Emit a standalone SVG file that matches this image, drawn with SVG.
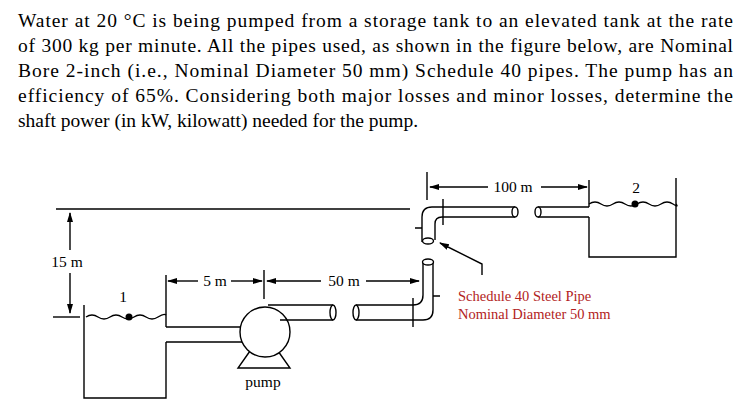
<svg xmlns="http://www.w3.org/2000/svg" width="751" height="412" viewBox="0 0 751 412">
<style>
.p{font-family:"Liberation Serif","Times New Roman",serif;font-size:19.5px;fill:#000}
.l{font-family:"Liberation Serif","Times New Roman",serif;font-size:15.5px;fill:#000}
.r{font-family:"Liberation Serif","Times New Roman",serif;font-size:14.5px;fill:#b22222}
.s{fill:none;stroke:#000;stroke-width:1.4}
.w{fill:#fff;stroke:#000;stroke-width:1.4}
</style>
<defs><marker id="a" markerWidth="10" markerHeight="8" refX="9" refY="4" orient="auto" markerUnits="userSpaceOnUse"><path d="M0,1 L10,4 L0,7 Z" fill="#000"/></marker></defs>
<rect width="751" height="412" fill="#fff"/>
<g id="question">
<text class="p" x="18" y="27" textLength="715" lengthAdjust="spacing">Water at 20 °C is being pumped from a storage tank to an elevated tank at the rate</text>
<text class="p" x="18" y="52" textLength="715" lengthAdjust="spacing">of 300 kg per minute. All the pipes used, as shown in the figure below, are Nominal</text>
<text class="p" x="18" y="77" textLength="715" lengthAdjust="spacing">Bore 2-inch (i.e., Nominal Diameter 50 mm) Schedule 40 pipes. The pump has an</text>
<text class="p" x="18" y="102" textLength="715" lengthAdjust="spacing">efficiency of 65%. Considering both major losses and minor losses, determine the</text>
<text class="p" x="18" y="127">shaft power (in kW, kilowatt) needed for the pump.</text>
</g>
<g id="lowerTank">
<path class="s" d="M84,305 V398 H166 V342 M166,275 V327"/>
<path class="s" d="M86,317 q6,-4 12,0 t12,0 t12,0 t12,0 t12,0 t12,0 t8,-2"/>
<circle cx="129" cy="317" r="3.5" fill="#000"/>
<text class="l" x="123" y="302" text-anchor="middle">1</text>
<line class="s" x1="53" y1="317" x2="80" y2="317"/>
</g>
<g id="datum"><line class="s" x1="56" y1="209" x2="410" y2="209"/></g>
<g id="pump">
<path class="s" d="M166,327 H242 M166,342 H242"/>
<path class="w" d="M250,351 L238,368 H290 L278,351"/>
<circle class="w" cx="265" cy="332" r="25"/>
<path class="s" d="M268,305 H333 M280,320 H333"/>
<ellipse class="w" cx="333" cy="312.5" rx="3" ry="7.5"/>
<text class="l" x="263" y="387" text-anchor="middle">pump</text>
</g>
<g id="pipeRiser">
<path class="s" d="M356,305 H413 Q423,305 423,295 V262 M356,320 H423 Q433,320 433,310 V262"/>
<ellipse class="w" cx="356" cy="312.5" rx="3" ry="7.5"/>
<ellipse class="w" cx="428" cy="262" rx="5.5" ry="3"/>
<path class="s" d="M413,298 V327 M433,296 H440"/>
</g>
<g id="pipeTop">
<path class="s" d="M515,207 H432 Q422,207 422,217 V242 M515,217 H442 Q435,217 435,224 V240"/>
<ellipse class="w" cx="428" cy="241" rx="5.5" ry="3"/>
<ellipse class="w" cx="515" cy="212" rx="3" ry="5"/>
<path class="s" d="M443,199 V225 M415,228 H422"/>
<path class="s" d="M589,207 H538 M589,217 H538"/>
<ellipse class="w" cx="538" cy="212" rx="3" ry="5"/>
</g>
<g id="upperTank">
<path class="s" d="M589,180 V207 M589,217 V257 H676 V178"/>
<path class="s" d="M589,204 q6,-4 12,0 t12,0 t12,0 t12,0 t12,0 t12,0 t12,0 t3,0"/>
<circle cx="635" cy="204" r="3.5" fill="#000"/>
<text class="l" x="636" y="193" text-anchor="middle">2</text>
</g>
<g id="connectors">
<line class="s" x1="70" y1="250" x2="70" y2="213" marker-end="url(#a)"/>
<line class="s" x1="70" y1="273" x2="70" y2="313" marker-end="url(#a)"/>
<text class="l" x="67" y="267" text-anchor="middle">15 m</text>
<line class="s" x1="264" y1="270" x2="264" y2="299"/>
<line class="s" x1="198" y1="281" x2="168" y2="281" marker-end="url(#a)"/>
<line class="s" x1="231" y1="281" x2="262" y2="281" marker-end="url(#a)"/>
<text class="l" x="215" y="286" text-anchor="middle">5 m</text>
<line class="s" x1="321" y1="281" x2="267" y2="281" marker-end="url(#a)"/>
<line class="s" x1="366" y1="281" x2="419" y2="281" marker-end="url(#a)"/>
<text class="l" x="344" y="286" text-anchor="middle">50 m</text>
<line class="s" x1="427" y1="172" x2="427" y2="200"/>
<line class="s" x1="488" y1="187" x2="430" y2="187" marker-end="url(#a)"/>
<line class="s" x1="541" y1="187" x2="587" y2="187" marker-end="url(#a)"/>
<text class="l" x="513" y="192" text-anchor="middle">100 m</text>
<polyline class="s" points="482,275 482,264 440,243" marker-end="url(#a)"/>
<text class="r" x="458" y="301">Schedule 40 Steel Pipe</text>
<text class="r" x="458" y="319">Nominal Diameter 50 mm</text>
</g>
</svg>
